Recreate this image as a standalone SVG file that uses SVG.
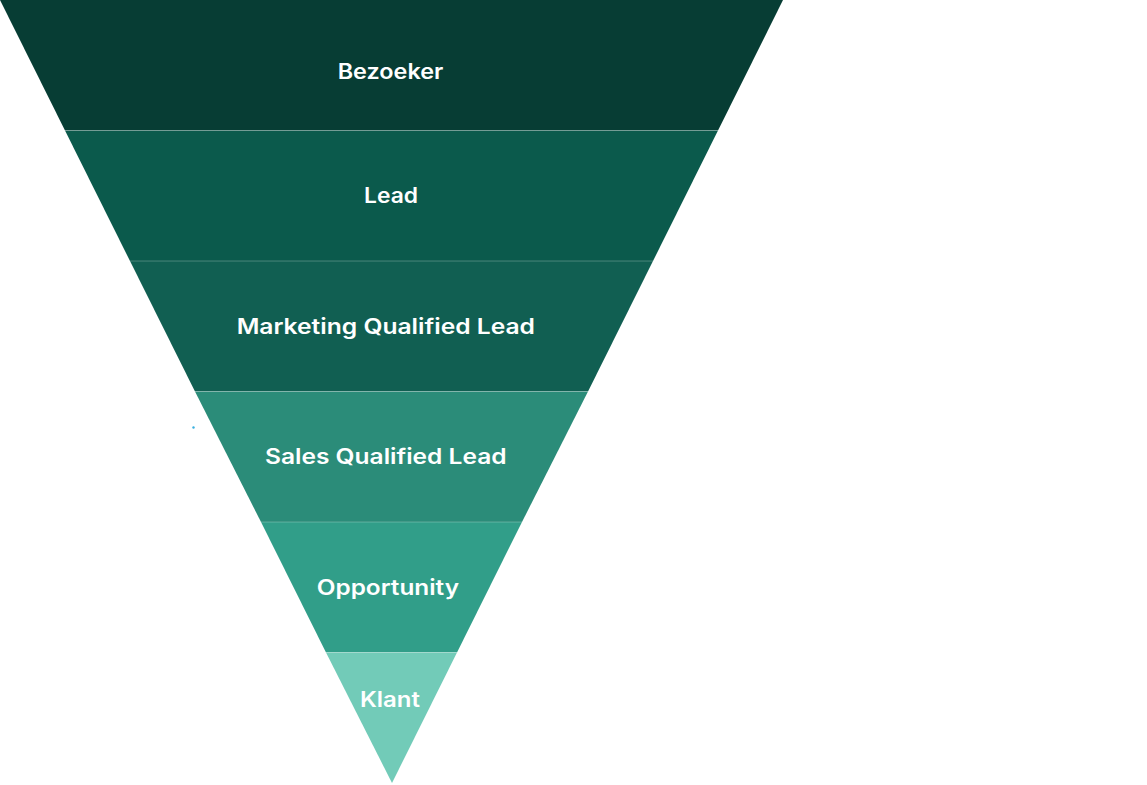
<svg xmlns="http://www.w3.org/2000/svg" width="1147" height="785" viewBox="0 0 1147 785">
<style>
.lbl{font-family:Inter,"Open Sans","Liberation Sans",sans-serif;font-weight:600;font-size:21px;fill:#ffffff;text-anchor:middle}
.sep{stroke:#ffffff;stroke-opacity:0.25;stroke-width:1}
</style>
<rect width="1147" height="785" fill="#ffffff"/>
<g id="bezoeker">
<polygon points="0,0 783,0 718,130.5 65,130.5" fill="#073d34"/>
<text class="lbl" x="390.5" y="78.5" textLength="105.6" lengthAdjust="spacingAndGlyphs">Bezoeker</text>
</g>
<g id="lead">
<polygon points="65,130.5 718,130.5 653,261 130,261" fill="#0b5a4c"/>
<text class="lbl" x="391" y="202.5" textLength="54" lengthAdjust="spacingAndGlyphs">Lead</text>
</g>
<g id="mql">
<polygon points="130,261 653,261 588,391.5 195,391.5" fill="#115f52"/>
<text class="lbl" x="385.8" y="333.5" textLength="298.3" lengthAdjust="spacingAndGlyphs">Marketing Qualified Lead</text>
</g>
<g id="sql">
<polygon points="195,391.5 588,391.5 522,522 261,522" fill="#2b8c79"/>
<text class="lbl" x="385.8" y="463.5" textLength="241.7" lengthAdjust="spacingAndGlyphs">Sales Qualified Lead</text>
</g>
<g id="opportunity">
<polygon points="261,522 522,522 457,652.5 326,652.5" fill="#319e89"/>
<text class="lbl" x="387.9" y="595" textLength="142.3" lengthAdjust="spacingAndGlyphs">Opportunity</text>
</g>
<g id="klant">
<polygon points="326,652.5 457,652.5 392,783" fill="#72cbb8"/>
<text class="lbl" x="390" y="706.5" textLength="60" lengthAdjust="spacingAndGlyphs">Klant</text>
</g>
<g id="separators">
<line class="sep" x1="65" y1="130.5" x2="718" y2="130.5"/>
<line class="sep" x1="130" y1="261" x2="653" y2="261"/>
<line class="sep" x1="195" y1="391.5" x2="588" y2="391.5"/>
<line class="sep" x1="261" y1="522" x2="522" y2="522"/>
<line class="sep" x1="326" y1="652.5" x2="457" y2="652.5"/>
</g>
<circle cx="193.5" cy="427.5" r="1.2" fill="#3ab0e0"/>
</svg>
